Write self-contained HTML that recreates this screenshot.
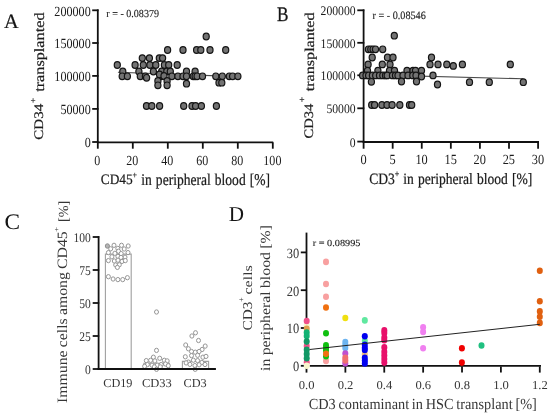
<!DOCTYPE html>
<html><head><meta charset="utf-8"><style>
html,body{margin:0;padding:0;background:#fff;width:550px;height:419px;overflow:hidden}
svg{display:block;will-change:transform}
text{font-family:"Liberation Serif",serif;text-rendering:geometricPrecision;fill:#1c1c1c;stroke:#1c1c1c;stroke-width:0}
</style></head><body>
<svg width="550" height="419" viewBox="0 0 550 419">
<rect width="550" height="419" fill="#fff"/>
<text class="t" transform="translate(4.09,28.22) scale(1.0431,1.0415)" font-size="19.5" text-anchor="start" style="fill:#151515;stroke:#151515;stroke-width:0.2px">A</text>
<text class="t" transform="translate(42.65,139.73) scale(0.9903,1.1396) rotate(-90)" font-size="13.2" text-anchor="start" style="fill:#1c1c1c;stroke:#1c1c1c;stroke-width:0.2px">CD34</text>
<text class="t" transform="translate(36.08,102.90) scale(0.9808,0.9995) rotate(-90)" font-size="9" text-anchor="start" style="fill:#1c1c1c;stroke:#1c1c1c;stroke-width:0.2px">+</text>
<text class="t" transform="translate(44.11,91.82) scale(1.0724,1.2311) rotate(-90)" font-size="13.2" text-anchor="start" style="fill:#1c1c1c;stroke:#1c1c1c;stroke-width:0.2px">transplanted</text>
<text class="t" transform="translate(106.31,17.47) scale(0.9596,1.0245)" font-size="10.5" text-anchor="start" style="fill:#1a1a1a;stroke:#1a1a1a;stroke-width:0.12px">r = - 0.08379</text>
<text class="t" transform="translate(100.71,184.36) scale(0.9852,1.0693)" font-size="13.6" text-anchor="start" style="fill:#1c1c1c;stroke:#1c1c1c;stroke-width:0.2px">CD45</text>
<text class="t" transform="translate(132.62,177.63) scale(0.9018,0.9900)" font-size="9" text-anchor="start" style="fill:#1c1c1c;stroke:#1c1c1c;stroke-width:0.2px">+</text>
<text class="t" transform="translate(141.25,184.55) scale(0.9960,1.2064)" font-size="13.6" text-anchor="start" word-spacing="0.7" style="fill:#1c1c1c;stroke:#1c1c1c;stroke-width:0.2px">in peripheral blood [%]</text>
<text class="t" transform="translate(90.72,147.37) scale(1.0106,1.1688)" font-size="12.0" text-anchor="end" style="fill:#1c1c1c;stroke:#1c1c1c;stroke-width:0.0px">0</text>
<line x1="92.2" y1="142.0" x2="98.5" y2="142.0" stroke="#111" stroke-width="1.8"/>
<text class="t" transform="translate(90.72,114.27) scale(1.0106,1.1688)" font-size="12.0" text-anchor="end" style="fill:#1c1c1c;stroke:#1c1c1c;stroke-width:0.0px">50000</text>
<line x1="92.2" y1="108.9" x2="98.5" y2="108.9" stroke="#111" stroke-width="1.8"/>
<text class="t" transform="translate(90.72,81.27) scale(1.0106,1.1688)" font-size="12.0" text-anchor="end" style="fill:#1c1c1c;stroke:#1c1c1c;stroke-width:0.0px">100000</text>
<line x1="92.2" y1="75.9" x2="98.5" y2="75.9" stroke="#111" stroke-width="1.8"/>
<text class="t" transform="translate(90.72,48.37) scale(1.0106,1.1688)" font-size="12.0" text-anchor="end" style="fill:#1c1c1c;stroke:#1c1c1c;stroke-width:0.0px">150000</text>
<line x1="92.2" y1="43.0" x2="98.5" y2="43.0" stroke="#111" stroke-width="1.8"/>
<text class="t" transform="translate(90.72,15.67) scale(1.0106,1.1688)" font-size="12.0" text-anchor="end" style="fill:#1c1c1c;stroke:#1c1c1c;stroke-width:0.0px">200000</text>
<line x1="92.2" y1="10.3" x2="98.5" y2="10.3" stroke="#111" stroke-width="1.8"/>
<line x1="97.8" y1="9.4" x2="97.8" y2="143.1" stroke="#111" stroke-width="1.8"/>
<line x1="97" y1="142.3" x2="273.2" y2="142.3" stroke="#111" stroke-width="1.8"/>
<line x1="97.8" y1="142.3" x2="97.8" y2="148.7" stroke="#111" stroke-width="1.8"/>
<text class="t" transform="translate(97.36,164.99) scale(1.0377,1.1913)" font-size="11.6" text-anchor="middle" style="fill:#1c1c1c;stroke:#1c1c1c;stroke-width:0.0px">0</text>
<line x1="132.8" y1="142.3" x2="132.8" y2="148.7" stroke="#111" stroke-width="1.8"/>
<text class="t" transform="translate(132.36,164.99) scale(1.0377,1.1913)" font-size="11.6" text-anchor="middle" style="fill:#1c1c1c;stroke:#1c1c1c;stroke-width:0.0px">20</text>
<line x1="167.8" y1="142.3" x2="167.8" y2="148.7" stroke="#111" stroke-width="1.8"/>
<text class="t" transform="translate(167.36,164.99) scale(1.0377,1.1913)" font-size="11.6" text-anchor="middle" style="fill:#1c1c1c;stroke:#1c1c1c;stroke-width:0.0px">40</text>
<line x1="202.8" y1="142.3" x2="202.8" y2="148.7" stroke="#111" stroke-width="1.8"/>
<text class="t" transform="translate(202.36,164.99) scale(1.0377,1.1913)" font-size="11.6" text-anchor="middle" style="fill:#1c1c1c;stroke:#1c1c1c;stroke-width:0.0px">60</text>
<line x1="237.8" y1="142.3" x2="237.8" y2="148.7" stroke="#111" stroke-width="1.8"/>
<text class="t" transform="translate(237.36,164.99) scale(1.0377,1.1913)" font-size="11.6" text-anchor="middle" style="fill:#1c1c1c;stroke:#1c1c1c;stroke-width:0.0px">80</text>
<line x1="272.8" y1="142.3" x2="272.8" y2="148.7" stroke="#111" stroke-width="1.8"/>
<text class="t" transform="translate(272.36,164.99) scale(1.0377,1.1913)" font-size="11.6" text-anchor="middle" style="fill:#1c1c1c;stroke:#1c1c1c;stroke-width:0.0px">100</text>
<line x1="117.9" y1="72.2" x2="238.5" y2="76.6" stroke="#4a4a4a" stroke-width="1.1"/>
<ellipse cx="206.2" cy="36.5" rx="3.05" ry="3.3" fill="#737373" stroke="#141414" stroke-width="1.2"/>
<ellipse cx="167.6" cy="50.0" rx="3.05" ry="3.3" fill="#737373" stroke="#141414" stroke-width="1.2"/>
<ellipse cx="183.0" cy="50.0" rx="3.05" ry="3.3" fill="#737373" stroke="#141414" stroke-width="1.2"/>
<ellipse cx="196.6" cy="50.0" rx="3.05" ry="3.3" fill="#737373" stroke="#141414" stroke-width="1.2"/>
<ellipse cx="200.8" cy="50.0" rx="3.05" ry="3.3" fill="#737373" stroke="#141414" stroke-width="1.2"/>
<ellipse cx="210.0" cy="50.0" rx="3.05" ry="3.3" fill="#737373" stroke="#141414" stroke-width="1.2"/>
<ellipse cx="225.7" cy="50.0" rx="3.05" ry="3.3" fill="#737373" stroke="#141414" stroke-width="1.2"/>
<ellipse cx="142.3" cy="58.1" rx="3.05" ry="3.3" fill="#737373" stroke="#141414" stroke-width="1.2"/>
<ellipse cx="149.4" cy="58.1" rx="3.05" ry="3.3" fill="#737373" stroke="#141414" stroke-width="1.2"/>
<ellipse cx="159.3" cy="58.1" rx="3.05" ry="3.3" fill="#737373" stroke="#141414" stroke-width="1.2"/>
<ellipse cx="162.6" cy="58.1" rx="3.05" ry="3.3" fill="#737373" stroke="#141414" stroke-width="1.2"/>
<ellipse cx="117.3" cy="65.0" rx="3.05" ry="3.3" fill="#737373" stroke="#141414" stroke-width="1.2"/>
<ellipse cx="135.1" cy="65.0" rx="3.05" ry="3.3" fill="#737373" stroke="#141414" stroke-width="1.2"/>
<ellipse cx="143.3" cy="65.0" rx="3.05" ry="3.3" fill="#737373" stroke="#141414" stroke-width="1.2"/>
<ellipse cx="149.9" cy="65.0" rx="3.05" ry="3.3" fill="#737373" stroke="#141414" stroke-width="1.2"/>
<ellipse cx="155.8" cy="65.0" rx="3.05" ry="3.3" fill="#737373" stroke="#141414" stroke-width="1.2"/>
<ellipse cx="164.4" cy="65.0" rx="3.05" ry="3.3" fill="#737373" stroke="#141414" stroke-width="1.2"/>
<ellipse cx="168.7" cy="65.0" rx="3.05" ry="3.3" fill="#737373" stroke="#141414" stroke-width="1.2"/>
<ellipse cx="177.2" cy="65.0" rx="3.05" ry="3.3" fill="#737373" stroke="#141414" stroke-width="1.2"/>
<ellipse cx="122.8" cy="71.5" rx="3.05" ry="3.3" fill="#737373" stroke="#141414" stroke-width="1.2"/>
<ellipse cx="138.9" cy="71.5" rx="3.05" ry="3.3" fill="#737373" stroke="#141414" stroke-width="1.2"/>
<ellipse cx="153.4" cy="71.5" rx="3.05" ry="3.3" fill="#737373" stroke="#141414" stroke-width="1.2"/>
<ellipse cx="161.7" cy="71.5" rx="3.05" ry="3.3" fill="#737373" stroke="#141414" stroke-width="1.2"/>
<ellipse cx="166.8" cy="71.5" rx="3.05" ry="3.3" fill="#737373" stroke="#141414" stroke-width="1.2"/>
<ellipse cx="170.3" cy="71.5" rx="3.05" ry="3.3" fill="#737373" stroke="#141414" stroke-width="1.2"/>
<ellipse cx="186.5" cy="71.5" rx="3.05" ry="3.3" fill="#737373" stroke="#141414" stroke-width="1.2"/>
<ellipse cx="195.1" cy="71.5" rx="3.05" ry="3.3" fill="#737373" stroke="#141414" stroke-width="1.2"/>
<ellipse cx="122.2" cy="76.3" rx="3.05" ry="3.3" fill="#737373" stroke="#141414" stroke-width="1.2"/>
<ellipse cx="127.4" cy="76.3" rx="3.05" ry="3.3" fill="#737373" stroke="#141414" stroke-width="1.2"/>
<ellipse cx="140.3" cy="76.3" rx="3.05" ry="3.3" fill="#737373" stroke="#141414" stroke-width="1.2"/>
<ellipse cx="145.4" cy="76.3" rx="3.05" ry="3.3" fill="#737373" stroke="#141414" stroke-width="1.2"/>
<ellipse cx="161.1" cy="76.3" rx="3.05" ry="3.3" fill="#737373" stroke="#141414" stroke-width="1.2"/>
<ellipse cx="171.9" cy="76.3" rx="3.05" ry="3.3" fill="#737373" stroke="#141414" stroke-width="1.2"/>
<ellipse cx="177.9" cy="76.3" rx="3.05" ry="3.3" fill="#737373" stroke="#141414" stroke-width="1.2"/>
<ellipse cx="183" cy="76.3" rx="3.05" ry="3.3" fill="#737373" stroke="#141414" stroke-width="1.2"/>
<ellipse cx="186.5" cy="76.3" rx="3.05" ry="3.3" fill="#737373" stroke="#141414" stroke-width="1.2"/>
<ellipse cx="193.2" cy="76.3" rx="3.05" ry="3.3" fill="#737373" stroke="#141414" stroke-width="1.2"/>
<ellipse cx="195.1" cy="76.3" rx="3.05" ry="3.3" fill="#737373" stroke="#141414" stroke-width="1.2"/>
<ellipse cx="197.1" cy="76.3" rx="3.05" ry="3.3" fill="#737373" stroke="#141414" stroke-width="1.2"/>
<ellipse cx="202.5" cy="76.3" rx="3.05" ry="3.3" fill="#737373" stroke="#141414" stroke-width="1.2"/>
<ellipse cx="215.8" cy="76.3" rx="3.05" ry="3.3" fill="#737373" stroke="#141414" stroke-width="1.2"/>
<ellipse cx="222.3" cy="76.3" rx="3.05" ry="3.3" fill="#737373" stroke="#141414" stroke-width="1.2"/>
<ellipse cx="229.3" cy="76.3" rx="3.05" ry="3.3" fill="#737373" stroke="#141414" stroke-width="1.2"/>
<ellipse cx="232.6" cy="76.3" rx="3.05" ry="3.3" fill="#737373" stroke="#141414" stroke-width="1.2"/>
<ellipse cx="237.9" cy="76.3" rx="3.05" ry="3.3" fill="#737373" stroke="#141414" stroke-width="1.2"/>
<ellipse cx="146.6" cy="77.8" rx="3.05" ry="3.3" fill="#737373" stroke="#141414" stroke-width="1.2"/>
<ellipse cx="159.5" cy="74.5" rx="3.05" ry="3.3" fill="#737373" stroke="#141414" stroke-width="1.2"/>
<ellipse cx="164.0" cy="76.0" rx="3.05" ry="3.3" fill="#737373" stroke="#141414" stroke-width="1.2"/>
<ellipse cx="157.9" cy="81" rx="3.05" ry="3.3" fill="#737373" stroke="#141414" stroke-width="1.2"/>
<ellipse cx="157.9" cy="85.3" rx="3.05" ry="3.3" fill="#737373" stroke="#141414" stroke-width="1.2"/>
<ellipse cx="167.1" cy="81" rx="3.05" ry="3.3" fill="#737373" stroke="#141414" stroke-width="1.2"/>
<ellipse cx="167.1" cy="85.3" rx="3.05" ry="3.3" fill="#737373" stroke="#141414" stroke-width="1.2"/>
<ellipse cx="186.5" cy="83.7" rx="3.05" ry="3.3" fill="#737373" stroke="#141414" stroke-width="1.2"/>
<ellipse cx="219" cy="82.7" rx="3.05" ry="3.3" fill="#737373" stroke="#141414" stroke-width="1.2"/>
<ellipse cx="221.8" cy="82.7" rx="3.05" ry="3.3" fill="#737373" stroke="#141414" stroke-width="1.2"/>
<ellipse cx="146.5" cy="106.0" rx="3.05" ry="3.3" fill="#737373" stroke="#141414" stroke-width="1.2"/>
<ellipse cx="151.8" cy="106.0" rx="3.05" ry="3.3" fill="#737373" stroke="#141414" stroke-width="1.2"/>
<ellipse cx="159.6" cy="106.0" rx="3.05" ry="3.3" fill="#737373" stroke="#141414" stroke-width="1.2"/>
<ellipse cx="183.7" cy="106.0" rx="3.05" ry="3.3" fill="#737373" stroke="#141414" stroke-width="1.2"/>
<ellipse cx="192" cy="106.0" rx="3.05" ry="3.3" fill="#737373" stroke="#141414" stroke-width="1.2"/>
<ellipse cx="195.6" cy="106.0" rx="3.05" ry="3.3" fill="#737373" stroke="#141414" stroke-width="1.2"/>
<ellipse cx="201.4" cy="106.0" rx="3.05" ry="3.3" fill="#737373" stroke="#141414" stroke-width="1.2"/>
<ellipse cx="216.4" cy="106.0" rx="3.05" ry="3.3" fill="#737373" stroke="#141414" stroke-width="1.2"/>
<text class="t" transform="translate(277.03,21.12) scale(1.0773,1.2884)" font-size="16.0" text-anchor="start" style="fill:#151515;stroke:#151515;stroke-width:0.2px">B</text>
<text class="t" transform="translate(312.93,138.50) scale(0.9830,1.1070) rotate(-90)" font-size="13.2" text-anchor="start" style="fill:#1c1c1c;stroke:#1c1c1c;stroke-width:0.2px">CD34</text>
<text class="t" transform="translate(305.42,102.21) scale(1.0249,1.0547) rotate(-90)" font-size="9" text-anchor="start" style="fill:#1c1c1c;stroke:#1c1c1c;stroke-width:0.2px">+</text>
<text class="t" transform="translate(313.65,91.36) scale(1.0212,1.2252) rotate(-90)" font-size="13.2" text-anchor="start" style="fill:#1c1c1c;stroke:#1c1c1c;stroke-width:0.2px">transplanted</text>
<text class="t" transform="translate(372.56,18.79) scale(0.9687,1.0627)" font-size="10.5" text-anchor="start" style="fill:#1a1a1a;stroke:#1a1a1a;stroke-width:0.12px">r = - 0.08546</text>
<text class="t" transform="translate(369.25,183.95) scale(0.9978,1.1653)" font-size="13.6" text-anchor="start" style="fill:#1c1c1c;stroke:#1c1c1c;stroke-width:0.2px">CD3</text>
<text class="t" transform="translate(394.81,176.65) scale(0.8959,1.0711)" font-size="9" text-anchor="start" style="fill:#1c1c1c;stroke:#1c1c1c;stroke-width:0.2px">+</text>
<text class="t" transform="translate(403.25,183.76) scale(0.9972,1.1642)" font-size="13.6" text-anchor="start" word-spacing="0.7" style="fill:#1c1c1c;stroke:#1c1c1c;stroke-width:0.2px">in peripheral blood [%]</text>
<text class="t" transform="translate(355.61,146.64) scale(1.0076,1.1297)" font-size="11.6" text-anchor="end" style="fill:#1c1c1c;stroke:#1c1c1c;stroke-width:0.0px">0</text>
<line x1="357.3" y1="141.6" x2="364.3" y2="141.6" stroke="#111" stroke-width="1.8"/>
<text class="t" transform="translate(355.61,113.34) scale(1.0076,1.1297)" font-size="11.6" text-anchor="end" style="fill:#1c1c1c;stroke:#1c1c1c;stroke-width:0.0px">50000</text>
<line x1="357.3" y1="108.3" x2="364.3" y2="108.3" stroke="#111" stroke-width="1.8"/>
<text class="t" transform="translate(355.61,80.34) scale(1.0076,1.1297)" font-size="11.6" text-anchor="end" style="fill:#1c1c1c;stroke:#1c1c1c;stroke-width:0.0px">100000</text>
<line x1="357.3" y1="75.3" x2="364.3" y2="75.3" stroke="#111" stroke-width="1.8"/>
<text class="t" transform="translate(355.61,47.84) scale(1.0076,1.1297)" font-size="11.6" text-anchor="end" style="fill:#1c1c1c;stroke:#1c1c1c;stroke-width:0.0px">150000</text>
<line x1="357.3" y1="42.8" x2="364.3" y2="42.8" stroke="#111" stroke-width="1.8"/>
<text class="t" transform="translate(355.61,15.34) scale(1.0076,1.1297)" font-size="11.6" text-anchor="end" style="fill:#1c1c1c;stroke:#1c1c1c;stroke-width:0.0px">200000</text>
<line x1="357.3" y1="10.3" x2="364.3" y2="10.3" stroke="#111" stroke-width="1.8"/>
<line x1="363.6" y1="9.4" x2="363.6" y2="142.8" stroke="#111" stroke-width="1.8"/>
<line x1="362.8" y1="142" x2="539" y2="142" stroke="#111" stroke-width="1.8"/>
<line x1="363.6" y1="142" x2="363.6" y2="148.7" stroke="#111" stroke-width="1.8"/>
<text class="t" transform="translate(363.45,164.09) scale(1.0635,1.2047)" font-size="11.6" text-anchor="middle" style="fill:#1c1c1c;stroke:#1c1c1c;stroke-width:0.0px">0</text>
<line x1="392.68" y1="142" x2="392.68" y2="148.7" stroke="#111" stroke-width="1.8"/>
<text class="t" transform="translate(392.53,164.09) scale(1.0635,1.2047)" font-size="11.6" text-anchor="middle" style="fill:#1c1c1c;stroke:#1c1c1c;stroke-width:0.0px">5</text>
<line x1="421.76" y1="142" x2="421.76" y2="148.7" stroke="#111" stroke-width="1.8"/>
<text class="t" transform="translate(421.61,164.09) scale(1.0635,1.2047)" font-size="11.6" text-anchor="middle" style="fill:#1c1c1c;stroke:#1c1c1c;stroke-width:0.0px">10</text>
<line x1="450.84000000000003" y1="142" x2="450.84000000000003" y2="148.7" stroke="#111" stroke-width="1.8"/>
<text class="t" transform="translate(450.69,164.09) scale(1.0635,1.2047)" font-size="11.6" text-anchor="middle" style="fill:#1c1c1c;stroke:#1c1c1c;stroke-width:0.0px">15</text>
<line x1="479.92" y1="142" x2="479.92" y2="148.7" stroke="#111" stroke-width="1.8"/>
<text class="t" transform="translate(479.77,164.09) scale(1.0635,1.2047)" font-size="11.6" text-anchor="middle" style="fill:#1c1c1c;stroke:#1c1c1c;stroke-width:0.0px">20</text>
<line x1="509.0" y1="142" x2="509.0" y2="148.7" stroke="#111" stroke-width="1.8"/>
<text class="t" transform="translate(508.85,164.09) scale(1.0635,1.2047)" font-size="11.6" text-anchor="middle" style="fill:#1c1c1c;stroke:#1c1c1c;stroke-width:0.0px">25</text>
<line x1="538.08" y1="142" x2="538.08" y2="148.7" stroke="#111" stroke-width="1.8"/>
<text class="t" transform="translate(537.93,164.09) scale(1.0635,1.2047)" font-size="11.6" text-anchor="middle" style="fill:#1c1c1c;stroke:#1c1c1c;stroke-width:0.0px">30</text>
<line x1="364" y1="74.6" x2="523.3" y2="78.8" stroke="#4a4a4a" stroke-width="1.1"/>
<ellipse cx="394.3" cy="35.7" rx="3.05" ry="3.3" fill="#737373" stroke="#141414" stroke-width="1.2"/>
<ellipse cx="368.4" cy="49.3" rx="3.05" ry="3.3" fill="#737373" stroke="#141414" stroke-width="1.2"/>
<ellipse cx="370.8" cy="49.3" rx="3.05" ry="3.3" fill="#737373" stroke="#141414" stroke-width="1.2"/>
<ellipse cx="373.1" cy="49.3" rx="3.05" ry="3.3" fill="#737373" stroke="#141414" stroke-width="1.2"/>
<ellipse cx="375.5" cy="49.3" rx="3.05" ry="3.3" fill="#737373" stroke="#141414" stroke-width="1.2"/>
<ellipse cx="382.7" cy="49.3" rx="3.05" ry="3.3" fill="#737373" stroke="#141414" stroke-width="1.2"/>
<ellipse cx="372.2" cy="57.5" rx="3.05" ry="3.3" fill="#737373" stroke="#141414" stroke-width="1.2"/>
<ellipse cx="387.5" cy="57.5" rx="3.05" ry="3.3" fill="#737373" stroke="#141414" stroke-width="1.2"/>
<ellipse cx="393.0" cy="57.5" rx="3.05" ry="3.3" fill="#737373" stroke="#141414" stroke-width="1.2"/>
<ellipse cx="431.5" cy="57.5" rx="3.05" ry="3.3" fill="#737373" stroke="#141414" stroke-width="1.2"/>
<ellipse cx="368.1" cy="64.4" rx="3.05" ry="3.3" fill="#737373" stroke="#141414" stroke-width="1.2"/>
<ellipse cx="382.3" cy="64.4" rx="3.05" ry="3.3" fill="#737373" stroke="#141414" stroke-width="1.2"/>
<ellipse cx="390.0" cy="64.4" rx="3.05" ry="3.3" fill="#737373" stroke="#141414" stroke-width="1.2"/>
<ellipse cx="430.0" cy="64.4" rx="3.05" ry="3.3" fill="#737373" stroke="#141414" stroke-width="1.2"/>
<ellipse cx="438.0" cy="64.4" rx="3.05" ry="3.3" fill="#737373" stroke="#141414" stroke-width="1.2"/>
<ellipse cx="446.8" cy="64.4" rx="3.05" ry="3.3" fill="#737373" stroke="#141414" stroke-width="1.2"/>
<ellipse cx="462.4" cy="64.4" rx="3.05" ry="3.3" fill="#737373" stroke="#141414" stroke-width="1.2"/>
<ellipse cx="510.3" cy="64.4" rx="3.05" ry="3.3" fill="#737373" stroke="#141414" stroke-width="1.2"/>
<ellipse cx="453.3" cy="65.9" rx="3.05" ry="3.3" fill="#737373" stroke="#141414" stroke-width="1.2"/>
<ellipse cx="367.5" cy="70.6" rx="3.05" ry="3.3" fill="#737373" stroke="#141414" stroke-width="1.2"/>
<ellipse cx="377.9" cy="70.6" rx="3.05" ry="3.3" fill="#737373" stroke="#141414" stroke-width="1.2"/>
<ellipse cx="389.5" cy="70.6" rx="3.05" ry="3.3" fill="#737373" stroke="#141414" stroke-width="1.2"/>
<ellipse cx="394.5" cy="70.6" rx="3.05" ry="3.3" fill="#737373" stroke="#141414" stroke-width="1.2"/>
<ellipse cx="407.0" cy="70.6" rx="3.05" ry="3.3" fill="#737373" stroke="#141414" stroke-width="1.2"/>
<ellipse cx="413.0" cy="70.6" rx="3.05" ry="3.3" fill="#737373" stroke="#141414" stroke-width="1.2"/>
<ellipse cx="415.5" cy="70.6" rx="3.05" ry="3.3" fill="#737373" stroke="#141414" stroke-width="1.2"/>
<ellipse cx="421.5" cy="70.6" rx="3.05" ry="3.3" fill="#737373" stroke="#141414" stroke-width="1.2"/>
<ellipse cx="362.6" cy="75.4" rx="3.05" ry="3.3" fill="#737373" stroke="#141414" stroke-width="1.2"/>
<ellipse cx="366.0" cy="75.4" rx="3.05" ry="3.3" fill="#737373" stroke="#141414" stroke-width="1.2"/>
<ellipse cx="368.6" cy="75.4" rx="3.05" ry="3.3" fill="#737373" stroke="#141414" stroke-width="1.2"/>
<ellipse cx="372.4" cy="75.4" rx="3.05" ry="3.3" fill="#737373" stroke="#141414" stroke-width="1.2"/>
<ellipse cx="375.7" cy="75.4" rx="3.05" ry="3.3" fill="#737373" stroke="#141414" stroke-width="1.2"/>
<ellipse cx="379.5" cy="75.4" rx="3.05" ry="3.3" fill="#737373" stroke="#141414" stroke-width="1.2"/>
<ellipse cx="382.8" cy="75.4" rx="3.05" ry="3.3" fill="#737373" stroke="#141414" stroke-width="1.2"/>
<ellipse cx="385.5" cy="75.4" rx="3.05" ry="3.3" fill="#737373" stroke="#141414" stroke-width="1.2"/>
<ellipse cx="387.2" cy="75.4" rx="3.05" ry="3.3" fill="#737373" stroke="#141414" stroke-width="1.2"/>
<ellipse cx="392.5" cy="75.4" rx="3.05" ry="3.3" fill="#737373" stroke="#141414" stroke-width="1.2"/>
<ellipse cx="395.5" cy="75.4" rx="3.05" ry="3.3" fill="#737373" stroke="#141414" stroke-width="1.2"/>
<ellipse cx="398.0" cy="75.4" rx="3.05" ry="3.3" fill="#737373" stroke="#141414" stroke-width="1.2"/>
<ellipse cx="403.0" cy="75.4" rx="3.05" ry="3.3" fill="#737373" stroke="#141414" stroke-width="1.2"/>
<ellipse cx="408.0" cy="75.4" rx="3.05" ry="3.3" fill="#737373" stroke="#141414" stroke-width="1.2"/>
<ellipse cx="412.8" cy="75.4" rx="3.05" ry="3.3" fill="#737373" stroke="#141414" stroke-width="1.2"/>
<ellipse cx="416.0" cy="75.4" rx="3.05" ry="3.3" fill="#737373" stroke="#141414" stroke-width="1.2"/>
<ellipse cx="433.0" cy="75.4" rx="3.05" ry="3.3" fill="#737373" stroke="#141414" stroke-width="1.2"/>
<ellipse cx="421.5" cy="76.5" rx="3.05" ry="3.3" fill="#737373" stroke="#141414" stroke-width="1.2"/>
<ellipse cx="371.4" cy="81.8" rx="3.05" ry="3.3" fill="#737373" stroke="#141414" stroke-width="1.2"/>
<ellipse cx="401.5" cy="81.5" rx="3.05" ry="3.3" fill="#737373" stroke="#141414" stroke-width="1.2"/>
<ellipse cx="416.5" cy="81.5" rx="3.05" ry="3.3" fill="#737373" stroke="#141414" stroke-width="1.2"/>
<ellipse cx="437.5" cy="84.5" rx="3.05" ry="3.3" fill="#737373" stroke="#141414" stroke-width="1.2"/>
<ellipse cx="469.5" cy="82.2" rx="3.05" ry="3.3" fill="#737373" stroke="#141414" stroke-width="1.2"/>
<ellipse cx="489.3" cy="82.2" rx="3.05" ry="3.3" fill="#737373" stroke="#141414" stroke-width="1.2"/>
<ellipse cx="523.3" cy="82.2" rx="3.05" ry="3.3" fill="#737373" stroke="#141414" stroke-width="1.2"/>
<ellipse cx="371.7" cy="105.0" rx="3.05" ry="3.3" fill="#737373" stroke="#141414" stroke-width="1.2"/>
<ellipse cx="374.6" cy="105.0" rx="3.05" ry="3.3" fill="#737373" stroke="#141414" stroke-width="1.2"/>
<ellipse cx="381.9" cy="105.0" rx="3.05" ry="3.3" fill="#737373" stroke="#141414" stroke-width="1.2"/>
<ellipse cx="387" cy="105.0" rx="3.05" ry="3.3" fill="#737373" stroke="#141414" stroke-width="1.2"/>
<ellipse cx="392.1" cy="105.0" rx="3.05" ry="3.3" fill="#737373" stroke="#141414" stroke-width="1.2"/>
<ellipse cx="399.8" cy="105.0" rx="3.05" ry="3.3" fill="#737373" stroke="#141414" stroke-width="1.2"/>
<ellipse cx="409.5" cy="105.0" rx="3.05" ry="3.3" fill="#737373" stroke="#141414" stroke-width="1.2"/>
<ellipse cx="411.7" cy="105.0" rx="3.05" ry="3.3" fill="#737373" stroke="#141414" stroke-width="1.2"/>
<text class="t" transform="translate(4.50,228.87) scale(1.1650,1.1123)" font-size="20.0" text-anchor="start" style="fill:#151515;stroke:#151515;stroke-width:0.0px">C</text>
<text class="t" transform="translate(67.03,403.01) scale(1.0983,1.2132) rotate(-90)" font-size="13.0" text-anchor="start" word-spacing="-0.6" style="fill:#363636;stroke:#363636;stroke-width:0.0px">Immune cells among CD45</text>
<text class="t" transform="translate(59.44,231.96) scale(0.7934,1.0189) rotate(-90)" font-size="9" text-anchor="start" style="fill:#363636;stroke:#363636;stroke-width:0.0px">+</text>
<text class="t" transform="translate(67.73,221.99) scale(1.0698,1.0890) rotate(-90)" font-size="13.0" text-anchor="start" style="fill:#363636;stroke:#363636;stroke-width:0.0px">[%]</text>
<text class="t" transform="translate(103.23,387.02) scale(1.0049,1.0008)" font-size="12.2" text-anchor="start" style="fill:#363636;stroke:#363636;stroke-width:0.0px">CD19</text>
<text class="t" transform="translate(141.97,387.02) scale(1.0255,1.0008)" font-size="12.2" text-anchor="start" style="fill:#363636;stroke:#363636;stroke-width:0.0px">CD33</text>
<text class="t" transform="translate(183.49,387.02) scale(1.0102,1.0008)" font-size="12.2" text-anchor="start" style="fill:#363636;stroke:#363636;stroke-width:0.0px">CD3</text>
<text class="t" transform="translate(90.77,374.03) scale(1.0319,1.1810)" font-size="11.2" text-anchor="end" style="fill:#363636;stroke:#363636;stroke-width:0.0px">0</text>
<line x1="92.7" y1="369.0" x2="99.2" y2="369.0" stroke="#111" stroke-width="1.8"/>
<text class="t" transform="translate(90.77,341.03) scale(1.0319,1.1810)" font-size="11.2" text-anchor="end" style="fill:#363636;stroke:#363636;stroke-width:0.0px">25</text>
<line x1="92.7" y1="336.0" x2="99.2" y2="336.0" stroke="#111" stroke-width="1.8"/>
<text class="t" transform="translate(90.77,308.03) scale(1.0319,1.1810)" font-size="11.2" text-anchor="end" style="fill:#363636;stroke:#363636;stroke-width:0.0px">50</text>
<line x1="92.7" y1="303.0" x2="99.2" y2="303.0" stroke="#111" stroke-width="1.8"/>
<text class="t" transform="translate(90.77,275.03) scale(1.0319,1.1810)" font-size="11.2" text-anchor="end" style="fill:#363636;stroke:#363636;stroke-width:0.0px">75</text>
<line x1="92.7" y1="270.0" x2="99.2" y2="270.0" stroke="#111" stroke-width="1.8"/>
<text class="t" transform="translate(90.77,242.03) scale(1.0319,1.1810)" font-size="11.2" text-anchor="end" style="fill:#363636;stroke:#363636;stroke-width:0.0px">100</text>
<line x1="92.7" y1="237.0" x2="99.2" y2="237.0" stroke="#111" stroke-width="1.8"/>
<line x1="98.6" y1="236.1" x2="98.6" y2="369.9" stroke="#111" stroke-width="1.8"/>
<line x1="97.7" y1="369.0" x2="215.7" y2="369.0" stroke="#111" stroke-width="1.8"/>
<polyline points="105.4,369 105.4,254.1 131.2,254.1 131.2,369" fill="none" stroke="#a0a0a0" stroke-width="1.1"/>
<polyline points="143.9,369 143.9,363.2 169.4,363.2 169.4,369" fill="none" stroke="#a0a0a0" stroke-width="1.1"/>
<polyline points="182.4,369 182.4,361.4 208.6,361.4 208.6,369" fill="none" stroke="#a0a0a0" stroke-width="1.1"/>
<ellipse cx="107.4" cy="246.0" rx="2.1" ry="2.25" fill="#b4b4b4" stroke="#8c8c8c" stroke-width="0.95"/>
<ellipse cx="114.0" cy="245.3" rx="2.0" ry="2.15" fill="#fff" stroke="#969696" stroke-width="1.0"/>
<ellipse cx="121.5" cy="245.3" rx="2.0" ry="2.15" fill="#fff" stroke="#969696" stroke-width="1.0"/>
<ellipse cx="128.2" cy="246.0" rx="2.0" ry="2.15" fill="#fff" stroke="#969696" stroke-width="1.0"/>
<ellipse cx="110.7" cy="248.8" rx="2.0" ry="2.15" fill="#fff" stroke="#969696" stroke-width="1.0"/>
<ellipse cx="117.8" cy="248.4" rx="2.0" ry="2.15" fill="#fff" stroke="#969696" stroke-width="1.0"/>
<ellipse cx="124.2" cy="249.0" rx="2.0" ry="2.15" fill="#fff" stroke="#969696" stroke-width="1.0"/>
<ellipse cx="108.4" cy="252.6" rx="2.0" ry="2.15" fill="#fff" stroke="#969696" stroke-width="1.0"/>
<ellipse cx="114.9" cy="253.3" rx="2.0" ry="2.15" fill="#fff" stroke="#969696" stroke-width="1.0"/>
<ellipse cx="118.5" cy="251.2" rx="2.0" ry="2.15" fill="#fff" stroke="#969696" stroke-width="1.0"/>
<ellipse cx="121.2" cy="253.6" rx="2.0" ry="2.15" fill="#fff" stroke="#969696" stroke-width="1.0"/>
<ellipse cx="128.0" cy="252.6" rx="2.0" ry="2.15" fill="#fff" stroke="#969696" stroke-width="1.0"/>
<ellipse cx="111.9" cy="256.8" rx="2.0" ry="2.15" fill="#fff" stroke="#969696" stroke-width="1.0"/>
<ellipse cx="117.9" cy="256.4" rx="2.0" ry="2.15" fill="#fff" stroke="#969696" stroke-width="1.0"/>
<ellipse cx="125.0" cy="257.2" rx="2.0" ry="2.15" fill="#fff" stroke="#969696" stroke-width="1.0"/>
<ellipse cx="121.0" cy="257.4" rx="2.0" ry="2.15" fill="#fff" stroke="#969696" stroke-width="1.0"/>
<ellipse cx="108.4" cy="260.6" rx="2.0" ry="2.15" fill="#fff" stroke="#969696" stroke-width="1.0"/>
<ellipse cx="114.3" cy="261.0" rx="2.0" ry="2.15" fill="#fff" stroke="#969696" stroke-width="1.0"/>
<ellipse cx="118.0" cy="260.2" rx="2.0" ry="2.15" fill="#fff" stroke="#969696" stroke-width="1.0"/>
<ellipse cx="122.0" cy="261.4" rx="2.0" ry="2.15" fill="#fff" stroke="#969696" stroke-width="1.0"/>
<ellipse cx="125.3" cy="260.6" rx="2.0" ry="2.15" fill="#fff" stroke="#969696" stroke-width="1.0"/>
<ellipse cx="115.7" cy="265.0" rx="2.0" ry="2.15" fill="#fff" stroke="#969696" stroke-width="1.0"/>
<ellipse cx="119.3" cy="264.8" rx="2.0" ry="2.15" fill="#fff" stroke="#969696" stroke-width="1.0"/>
<ellipse cx="117.4" cy="267.4" rx="2.0" ry="2.15" fill="#fff" stroke="#969696" stroke-width="1.0"/>
<ellipse cx="108.4" cy="276.7" rx="2.0" ry="2.15" fill="#fff" stroke="#969696" stroke-width="1.0"/>
<ellipse cx="113.1" cy="279.0" rx="2.0" ry="2.15" fill="#fff" stroke="#969696" stroke-width="1.0"/>
<ellipse cx="117.9" cy="279.6" rx="2.0" ry="2.15" fill="#fff" stroke="#969696" stroke-width="1.0"/>
<ellipse cx="122.7" cy="279.6" rx="2.0" ry="2.15" fill="#fff" stroke="#969696" stroke-width="1.0"/>
<ellipse cx="127.4" cy="277.7" rx="2.0" ry="2.15" fill="#fff" stroke="#969696" stroke-width="1.0"/>
<ellipse cx="156.5" cy="312" rx="2.0" ry="2.15" fill="#fff" stroke="#969696" stroke-width="1.0"/>
<ellipse cx="156.5" cy="350.4" rx="2.0" ry="2.15" fill="#fff" stroke="#969696" stroke-width="1.0"/>
<ellipse cx="153.4" cy="357.2" rx="2.0" ry="2.15" fill="#fff" stroke="#969696" stroke-width="1.0"/>
<ellipse cx="159.7" cy="358.3" rx="2.0" ry="2.15" fill="#fff" stroke="#969696" stroke-width="1.0"/>
<ellipse cx="146.3" cy="360.6" rx="2.0" ry="2.15" fill="#fff" stroke="#969696" stroke-width="1.0"/>
<ellipse cx="150.6" cy="360.3" rx="2.0" ry="2.15" fill="#fff" stroke="#969696" stroke-width="1.0"/>
<ellipse cx="154.9" cy="360.9" rx="2.0" ry="2.15" fill="#fff" stroke="#969696" stroke-width="1.0"/>
<ellipse cx="164.3" cy="360.3" rx="2.0" ry="2.15" fill="#fff" stroke="#969696" stroke-width="1.0"/>
<ellipse cx="167.2" cy="360.9" rx="2.0" ry="2.15" fill="#fff" stroke="#969696" stroke-width="1.0"/>
<ellipse cx="147.4" cy="364.6" rx="2.0" ry="2.15" fill="#fff" stroke="#969696" stroke-width="1.0"/>
<ellipse cx="152.0" cy="365.2" rx="2.0" ry="2.15" fill="#fff" stroke="#969696" stroke-width="1.0"/>
<ellipse cx="157.2" cy="365.2" rx="2.0" ry="2.15" fill="#fff" stroke="#969696" stroke-width="1.0"/>
<ellipse cx="161.2" cy="364.6" rx="2.0" ry="2.15" fill="#fff" stroke="#969696" stroke-width="1.0"/>
<ellipse cx="165.5" cy="364.0" rx="2.0" ry="2.15" fill="#fff" stroke="#969696" stroke-width="1.0"/>
<ellipse cx="144.6" cy="366.3" rx="2.0" ry="2.15" fill="#fff" stroke="#969696" stroke-width="1.0"/>
<ellipse cx="168.3" cy="365.7" rx="2.0" ry="2.15" fill="#fff" stroke="#969696" stroke-width="1.0"/>
<ellipse cx="154.3" cy="366.9" rx="2.0" ry="2.15" fill="#fff" stroke="#969696" stroke-width="1.0"/>
<ellipse cx="160.3" cy="366.9" rx="2.0" ry="2.15" fill="#fff" stroke="#969696" stroke-width="1.0"/>
<ellipse cx="195.5" cy="332.8" rx="2.0" ry="2.15" fill="#fff" stroke="#969696" stroke-width="1.0"/>
<ellipse cx="191.9" cy="336" rx="2.0" ry="2.15" fill="#fff" stroke="#969696" stroke-width="1.0"/>
<ellipse cx="198.5" cy="340.5" rx="2.0" ry="2.15" fill="#fff" stroke="#969696" stroke-width="1.0"/>
<ellipse cx="185.7" cy="345.0" rx="2.0" ry="2.15" fill="#fff" stroke="#969696" stroke-width="1.0"/>
<ellipse cx="205.2" cy="346.1" rx="2.0" ry="2.15" fill="#fff" stroke="#969696" stroke-width="1.0"/>
<ellipse cx="188.4" cy="348.8" rx="2.0" ry="2.15" fill="#fff" stroke="#969696" stroke-width="1.0"/>
<ellipse cx="202.1" cy="349.5" rx="2.0" ry="2.15" fill="#fff" stroke="#969696" stroke-width="1.0"/>
<ellipse cx="191.5" cy="351.5" rx="2.0" ry="2.15" fill="#fff" stroke="#969696" stroke-width="1.0"/>
<ellipse cx="195.3" cy="352.2" rx="2.0" ry="2.15" fill="#fff" stroke="#969696" stroke-width="1.0"/>
<ellipse cx="199.1" cy="351.5" rx="2.0" ry="2.15" fill="#fff" stroke="#969696" stroke-width="1.0"/>
<ellipse cx="185.3" cy="356.8" rx="2.0" ry="2.15" fill="#fff" stroke="#969696" stroke-width="1.0"/>
<ellipse cx="191.5" cy="355.6" rx="2.0" ry="2.15" fill="#fff" stroke="#969696" stroke-width="1.0"/>
<ellipse cx="197.6" cy="355.3" rx="2.0" ry="2.15" fill="#fff" stroke="#969696" stroke-width="1.0"/>
<ellipse cx="202.9" cy="357.2" rx="2.0" ry="2.15" fill="#fff" stroke="#969696" stroke-width="1.0"/>
<ellipse cx="206.0" cy="356.4" rx="2.0" ry="2.15" fill="#fff" stroke="#969696" stroke-width="1.0"/>
<ellipse cx="188.4" cy="362.1" rx="2.0" ry="2.15" fill="#fff" stroke="#969696" stroke-width="1.0"/>
<ellipse cx="193.4" cy="360.2" rx="2.0" ry="2.15" fill="#fff" stroke="#969696" stroke-width="1.0"/>
<ellipse cx="197.6" cy="360.6" rx="2.0" ry="2.15" fill="#fff" stroke="#969696" stroke-width="1.0"/>
<ellipse cx="201.8" cy="362.5" rx="2.0" ry="2.15" fill="#fff" stroke="#969696" stroke-width="1.0"/>
<ellipse cx="189.9" cy="364.4" rx="2.0" ry="2.15" fill="#fff" stroke="#969696" stroke-width="1.0"/>
<ellipse cx="194.9" cy="365.6" rx="2.0" ry="2.15" fill="#fff" stroke="#969696" stroke-width="1.0"/>
<ellipse cx="199.1" cy="364.8" rx="2.0" ry="2.15" fill="#fff" stroke="#969696" stroke-width="1.0"/>
<ellipse cx="186.1" cy="362.9" rx="2.0" ry="2.15" fill="#fff" stroke="#969696" stroke-width="1.0"/>
<ellipse cx="205.0" cy="364.5" rx="2.0" ry="2.15" fill="#fff" stroke="#969696" stroke-width="1.0"/>
<ellipse cx="156.5" cy="369.3" rx="2.0" ry="2.15" fill="#fff" stroke="#969696" stroke-width="1.0"/>
<ellipse cx="195.2" cy="369.3" rx="2.0" ry="2.15" fill="#fff" stroke="#969696" stroke-width="1.0"/>
<line x1="97.7" y1="369.0" x2="215.7" y2="369.0" stroke="#111" stroke-width="1.8"/>
<text class="t" transform="translate(228.71,220.90) scale(1.1748,1.1756)" font-size="18.0" text-anchor="start" style="fill:#151515;stroke:#151515;stroke-width:0.0px">D</text>
<text class="t" transform="translate(251.96,330.54) scale(1.0422,1.1766) rotate(-90)" font-size="13.0" text-anchor="start" style="fill:#363636;stroke:#363636;stroke-width:0.0px">CD3</text>
<text class="t" transform="translate(244.48,301.91) scale(0.9176,0.8972) rotate(-90)" font-size="9" text-anchor="start" style="fill:#363636;stroke:#363636;stroke-width:0.0px">+</text>
<text class="t" transform="translate(252.16,294.52) scale(0.9527,1.2321) rotate(-90)" font-size="13.0" text-anchor="start" style="fill:#363636;stroke:#363636;stroke-width:0.0px">cells</text>
<text class="t" transform="translate(270.12,370.93) scale(1.0693,1.2139) rotate(-90)" font-size="13.0" text-anchor="start" word-spacing="-0.5" style="fill:#363636;stroke:#363636;stroke-width:0.0px">in peripheral blood [%]</text>
<text class="t" transform="translate(308.67,409.17) scale(1.0522,1.1299)" font-size="13.6" text-anchor="start" word-spacing="-0.8" style="fill:#363636;stroke:#363636;stroke-width:0.0px">CD3 contaminant in HSC transplant [%]</text>
<text class="t" transform="translate(312.73,245.55) scale(1.0264,0.9452)" font-size="10.0" text-anchor="start" style="fill:#1a1a1a;stroke:#1a1a1a;stroke-width:0.12px">r = 0.08995</text>
<text class="t" transform="translate(299.13,371.18) scale(1.0944,1.2401)" font-size="11.4" text-anchor="end" style="fill:#363636;stroke:#363636;stroke-width:0.0px">0</text>
<line x1="300.8" y1="365.8" x2="306.8" y2="365.8" stroke="#111" stroke-width="1.8"/>
<text class="t" transform="translate(299.13,333.38) scale(1.0944,1.2401)" font-size="11.4" text-anchor="end" style="fill:#363636;stroke:#363636;stroke-width:0.0px">10</text>
<line x1="300.8" y1="328.0" x2="306.8" y2="328.0" stroke="#111" stroke-width="1.8"/>
<text class="t" transform="translate(299.13,295.58) scale(1.0944,1.2401)" font-size="11.4" text-anchor="end" style="fill:#363636;stroke:#363636;stroke-width:0.0px">20</text>
<line x1="300.8" y1="290.2" x2="306.8" y2="290.2" stroke="#111" stroke-width="1.8"/>
<text class="t" transform="translate(299.13,257.78) scale(1.0944,1.2401)" font-size="11.4" text-anchor="end" style="fill:#363636;stroke:#363636;stroke-width:0.0px">30</text>
<line x1="300.8" y1="252.4" x2="306.8" y2="252.4" stroke="#111" stroke-width="1.8"/>
<line x1="306.5" y1="232.6" x2="306.5" y2="366.6" stroke="#111" stroke-width="1.8"/>
<line x1="309.6" y1="365.9" x2="541.0" y2="365.9" stroke="#111" stroke-width="1.8"/>
<line x1="306.5" y1="366.5" x2="306.5" y2="372.6" stroke="#111" stroke-width="1.8"/>
<text class="t" transform="translate(306.63,388.53) scale(1.0672,1.0220)" font-size="11.8" text-anchor="middle" style="fill:#363636;stroke:#363636;stroke-width:0.0px">0.0</text>
<line x1="345.38" y1="366.5" x2="345.38" y2="372.6" stroke="#111" stroke-width="1.8"/>
<text class="t" transform="translate(345.51,388.53) scale(1.0672,1.0220)" font-size="11.8" text-anchor="middle" style="fill:#363636;stroke:#363636;stroke-width:0.0px">0.2</text>
<line x1="384.26" y1="366.5" x2="384.26" y2="372.6" stroke="#111" stroke-width="1.8"/>
<text class="t" transform="translate(384.39,388.53) scale(1.0672,1.0220)" font-size="11.8" text-anchor="middle" style="fill:#363636;stroke:#363636;stroke-width:0.0px">0.4</text>
<line x1="423.14" y1="366.5" x2="423.14" y2="372.6" stroke="#111" stroke-width="1.8"/>
<text class="t" transform="translate(423.27,388.53) scale(1.0672,1.0220)" font-size="11.8" text-anchor="middle" style="fill:#363636;stroke:#363636;stroke-width:0.0px">0.6</text>
<line x1="462.02" y1="366.5" x2="462.02" y2="372.6" stroke="#111" stroke-width="1.8"/>
<text class="t" transform="translate(462.15,388.53) scale(1.0672,1.0220)" font-size="11.8" text-anchor="middle" style="fill:#363636;stroke:#363636;stroke-width:0.0px">0.8</text>
<line x1="500.9" y1="366.5" x2="500.9" y2="372.6" stroke="#111" stroke-width="1.8"/>
<text class="t" transform="translate(501.03,388.53) scale(1.0672,1.0220)" font-size="11.8" text-anchor="middle" style="fill:#363636;stroke:#363636;stroke-width:0.0px">1.0</text>
<line x1="539.78" y1="366.5" x2="539.78" y2="372.6" stroke="#111" stroke-width="1.8"/>
<text class="t" transform="translate(539.91,388.53) scale(1.0672,1.0220)" font-size="11.8" text-anchor="middle" style="fill:#363636;stroke:#363636;stroke-width:0.0px">1.2</text>
<ellipse cx="306.7" cy="346.0" rx="3.0" ry="3.3" fill="#f0508a"/>
<ellipse cx="306.7" cy="325.6" rx="3.0" ry="3.3" fill="#f5f5c8"/>
<ellipse cx="306.7" cy="362.3" rx="3.0" ry="3.3" fill="#f0508a"/>
<ellipse cx="306.7" cy="321.0" rx="3.0" ry="3.3" fill="#f0508a"/>
<ellipse cx="306.7" cy="328.8" rx="3.0" ry="3.3" fill="#e0a050"/>
<ellipse cx="306.7" cy="332.6" rx="3.0" ry="3.3" fill="#12b274"/>
<ellipse cx="306.7" cy="336.0" rx="3.0" ry="3.3" fill="#12b274"/>
<ellipse cx="306.7" cy="341.6" rx="3.0" ry="3.3" fill="#119865"/>
<ellipse cx="306.7" cy="349.7" rx="3.0" ry="3.3" fill="#119865"/>
<ellipse cx="306.7" cy="354.0" rx="3.0" ry="3.3" fill="#119865"/>
<ellipse cx="306.7" cy="358.3" rx="3.0" ry="3.3" fill="#119865"/>
<ellipse cx="306.7" cy="365.8" rx="3.0" ry="3.3" fill="#f7f5cc"/>
<ellipse cx="326.0" cy="261.9" rx="3.0" ry="3.3" fill="#f8a0a0"/>
<ellipse cx="326.0" cy="284.0" rx="3.0" ry="3.3" fill="#f8a0a0"/>
<ellipse cx="326.0" cy="296.8" rx="3.0" ry="3.3" fill="#f8a0a0"/>
<ellipse cx="326.0" cy="307.5" rx="3.0" ry="3.3" fill="#f07010"/>
<ellipse cx="326.0" cy="333.3" rx="3.0" ry="3.3" fill="#10c010"/>
<ellipse cx="326.0" cy="360.9" rx="3.0" ry="3.3" fill="#f8a0a0"/>
<ellipse cx="326.0" cy="345.2" rx="3.0" ry="3.3" fill="#10c010"/>
<ellipse cx="326.0" cy="348.0" rx="3.0" ry="3.3" fill="#10c010"/>
<ellipse cx="326.0" cy="350.4" rx="3.0" ry="3.3" fill="#10c010"/>
<ellipse cx="326.0" cy="356.2" rx="3.0" ry="3.3" fill="#10c010"/>
<ellipse cx="326.0" cy="353.8" rx="3.0" ry="3.3" fill="#f07010"/>
<ellipse cx="345.3" cy="318.0" rx="3.0" ry="3.3" fill="#f0e010"/>
<ellipse cx="345.3" cy="363.3" rx="3.0" ry="3.3" fill="#c050d0"/>
<ellipse cx="345.3" cy="342.0" rx="3.0" ry="3.3" fill="#6cb4f0"/>
<ellipse cx="345.3" cy="345.0" rx="3.0" ry="3.3" fill="#6cb4f0"/>
<ellipse cx="345.3" cy="348.0" rx="3.0" ry="3.3" fill="#6cb4f0"/>
<ellipse cx="345.3" cy="353.5" rx="3.0" ry="3.3" fill="#c050d0"/>
<ellipse cx="345.3" cy="357.7" rx="3.0" ry="3.3" fill="#f07070"/>
<ellipse cx="345.3" cy="360.5" rx="3.0" ry="3.3" fill="#f07070"/>
<ellipse cx="364.8" cy="320.4" rx="3.0" ry="3.3" fill="#60e8a0"/>
<ellipse cx="364.8" cy="341.0" rx="3.0" ry="3.3" fill="#60e8a0"/>
<ellipse cx="364.8" cy="354.3" rx="3.0" ry="3.3" fill="#f0c080"/>
<ellipse cx="364.8" cy="336.2" rx="3.0" ry="3.3" fill="#0000f0"/>
<ellipse cx="364.8" cy="344.8" rx="3.0" ry="3.3" fill="#0000f0"/>
<ellipse cx="364.8" cy="347.7" rx="3.0" ry="3.3" fill="#0000f0"/>
<ellipse cx="364.8" cy="350.0" rx="3.0" ry="3.3" fill="#0000f0"/>
<ellipse cx="364.8" cy="357.7" rx="3.0" ry="3.3" fill="#0000f0"/>
<ellipse cx="364.8" cy="360.5" rx="3.0" ry="3.3" fill="#0000f0"/>
<ellipse cx="364.8" cy="363.4" rx="3.0" ry="3.3" fill="#0000f0"/>
<ellipse cx="384.3" cy="330.4" rx="3.0" ry="3.3" fill="#e8106a"/>
<ellipse cx="384.3" cy="333.1" rx="3.0" ry="3.3" fill="#e8106a"/>
<ellipse cx="384.3" cy="337.6" rx="3.0" ry="3.3" fill="#e8106a"/>
<ellipse cx="384.3" cy="340.3" rx="3.0" ry="3.3" fill="#e8106a"/>
<ellipse cx="384.3" cy="347.4" rx="3.0" ry="3.3" fill="#e8106a"/>
<ellipse cx="384.3" cy="351.9" rx="3.0" ry="3.3" fill="#e8106a"/>
<ellipse cx="384.3" cy="355.5" rx="3.0" ry="3.3" fill="#e8106a"/>
<ellipse cx="384.3" cy="359.1" rx="3.0" ry="3.3" fill="#e8106a"/>
<ellipse cx="384.3" cy="362.6" rx="3.0" ry="3.3" fill="#e8106a"/>
<ellipse cx="423.1" cy="327.2" rx="3.0" ry="3.3" fill="#f080f0"/>
<ellipse cx="423.1" cy="331.9" rx="3.0" ry="3.3" fill="#f080f0"/>
<ellipse cx="423.1" cy="348.3" rx="3.0" ry="3.3" fill="#f080f0"/>
<ellipse cx="461.9" cy="348.3" rx="3.0" ry="3.3" fill="#f00000"/>
<ellipse cx="461.9" cy="362.6" rx="3.0" ry="3.3" fill="#f00000"/>
<ellipse cx="481.5" cy="345.5" rx="3.0" ry="3.3" fill="#20c080"/>
<ellipse cx="539.8" cy="270.8" rx="3.0" ry="3.3" fill="#e06010"/>
<ellipse cx="539.8" cy="301.2" rx="3.0" ry="3.3" fill="#e06010"/>
<ellipse cx="539.8" cy="311.4" rx="3.0" ry="3.3" fill="#e06010"/>
<ellipse cx="539.8" cy="316.7" rx="3.0" ry="3.3" fill="#e06010"/>
<ellipse cx="539.8" cy="322.9" rx="3.0" ry="3.3" fill="#e06010"/>
<line x1="309.6" y1="349.5" x2="539.8" y2="324.3" stroke="#222" stroke-width="1.0"/>
</svg>
</body></html>
